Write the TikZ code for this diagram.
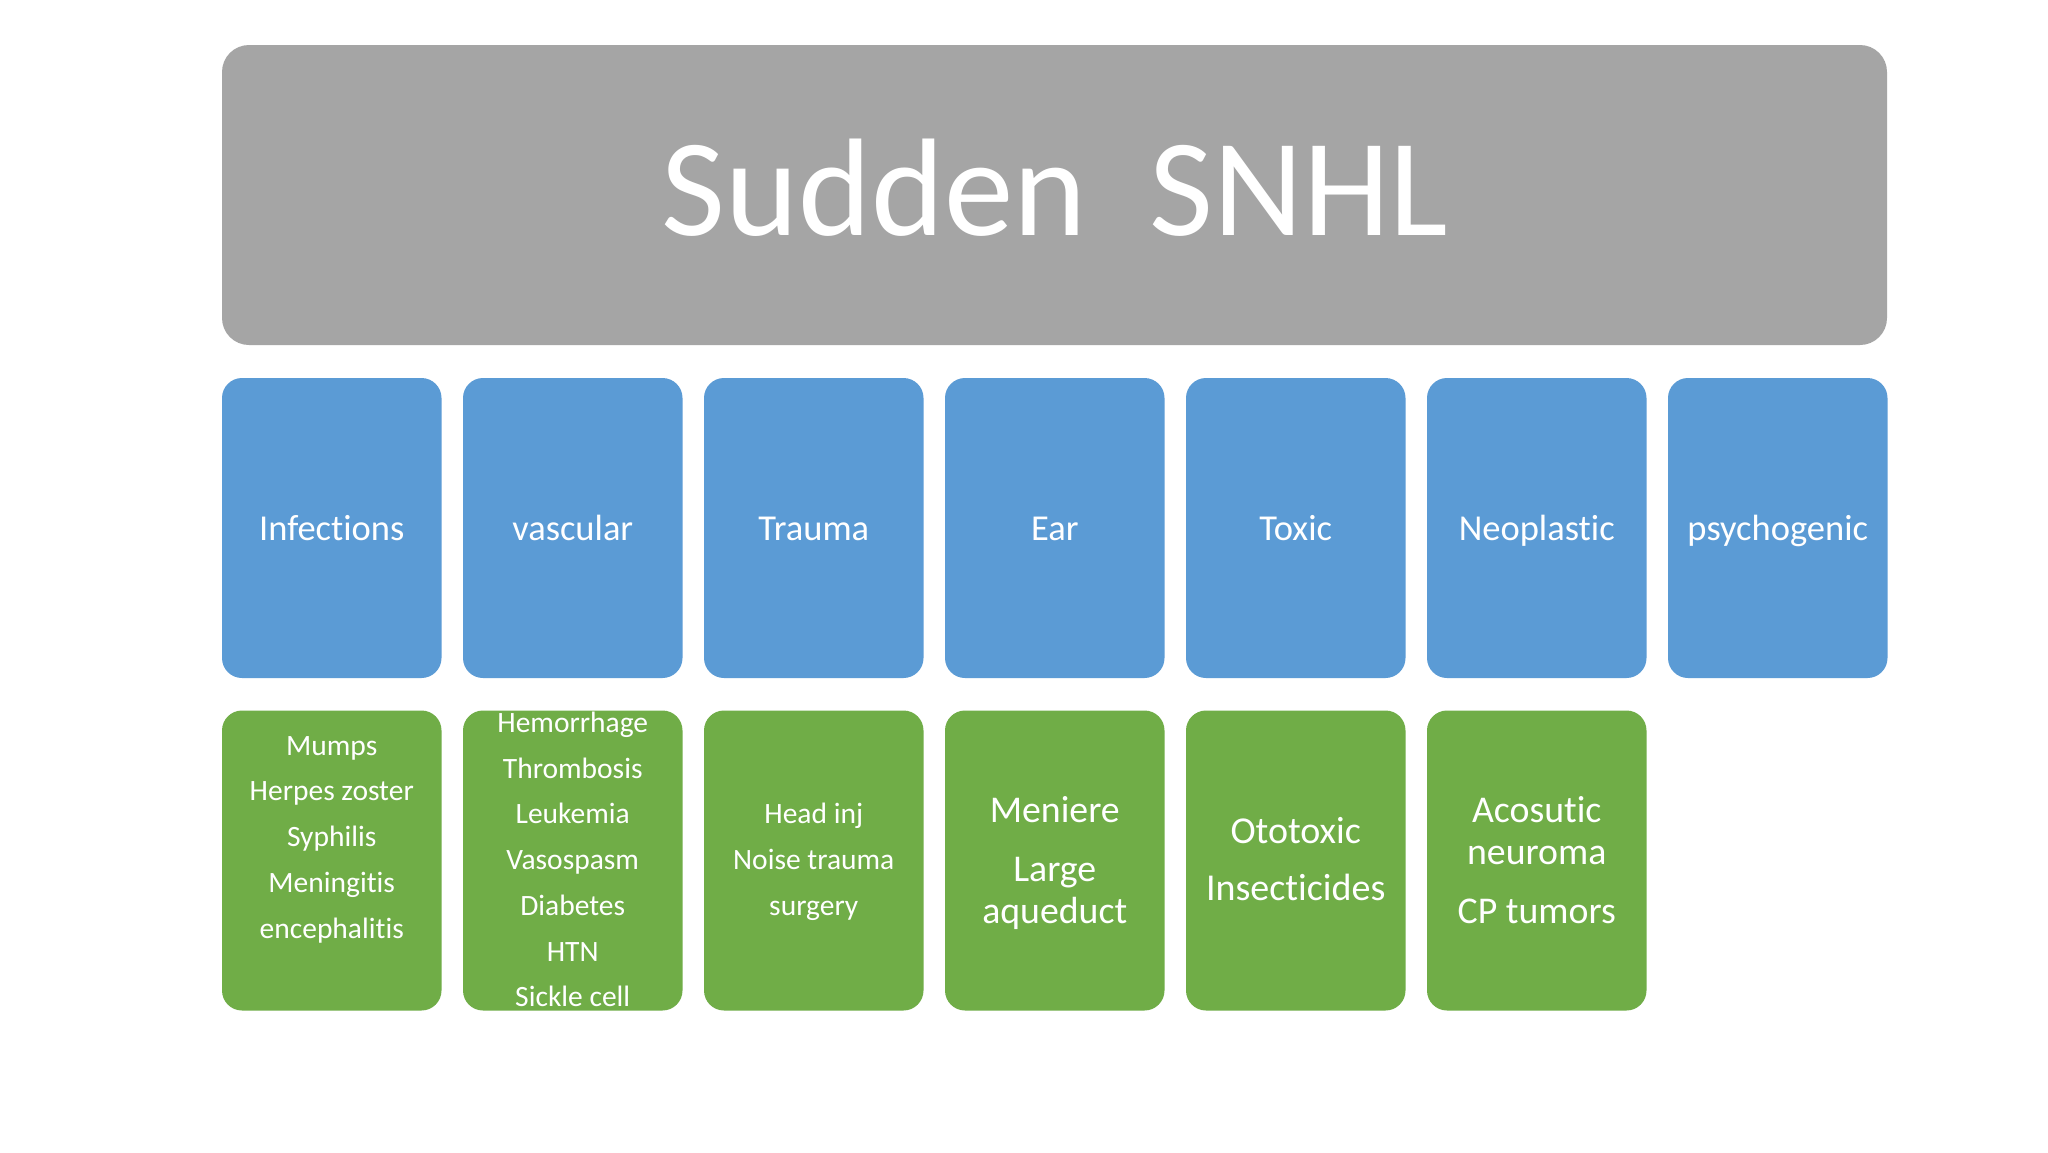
\documentclass[tikz,border=0pt]{standalone}
\usepackage{fontspec}
\setmainfont{Carlito}[Ligatures=NoCommon]
\definecolor{grayC}{HTML}{A5A5A5}
\definecolor{blueC}{HTML}{5B9BD5}
\definecolor{greenC}{HTML}{70AD47}
\newcommand\bluelabel[1]{\raisebox{-12.8pt}[0pt][0pt]{#1}}
\begin{document}
\begin{tikzpicture}[x=1pt,y=-1pt,
  box/.style={rounded corners=20pt, minimum width=219.5pt, minimum height=300pt,
    inner sep=0pt, text=white, align=center, anchor=center},
  bluebox/.style={box, fill=blueC, font=\fontsize{36.5}{44}\selectfont},
  greenbox/.style={box, fill=greenC},
  plaintext/.style={inner sep=0pt, text=white, align=center, anchor=center},
  smalltext/.style={font=\fontsize{29.5}{45.7}\selectfont},
  bigtext/.style={font=\fontsize{37.8}{41.8}\selectfont},
  toxtext/.style={font=\fontsize{38}{57.5}\selectfont},
  titlebox/.style={rounded corners=27pt, minimum width=1665pt, minimum height=300pt,
    inner sep=0pt, fill=grayC, text=white, font=\fontsize{139}{168}\selectfont}
]
\useasboundingbox (0,0) rectangle (2048,1152);
\fill[white] (0,0) rectangle (2048,1152);

\node[titlebox] (title) at (1054.5,195) {};
\node[plaintext, font=\fontsize{139}{168}\selectfont] (titletext) at (1055,188) {Sudden\ \ SNHL};

\node[bluebox] (b1) at (331.75,528) {\bluelabel{Infections}};
\node[bluebox] (b2) at (572.75,528) {\bluelabel{vascular}};
\node[bluebox] (b3) at (813.75,528) {\bluelabel{Trauma}};
\node[bluebox] (b4) at (1054.75,528) {\bluelabel{Ear}};
\node[bluebox] (b5) at (1295.75,528) {\bluelabel{Toxic}};
\node[bluebox] (b6) at (1536.75,528) {\bluelabel{Neoplastic}};
\node[bluebox] (b7) at (1777.75,528) {\bluelabel{psychogenic}};

\node[greenbox] (g1) at (331.75,860.5) {};
\node[greenbox] (g2) at (572.75,860.5) {};
\node[greenbox] (g3) at (813.75,860.5) {};
\node[greenbox] (g4) at (1054.75,860.5) {};
\node[greenbox] (g5) at (1295.75,860.5) {};
\node[greenbox] (g6) at (1536.75,860.5) {};

\node[plaintext, smalltext] (g1t) at ([yshift=23pt]g1.center)
  {\strut Mumps\\\strut Herpes zoster\\\strut Syphilis\\\strut Meningitis\\\strut encephalitis};
\node[plaintext, smalltext] (g2t) at (g2.center)
  {\strut Hemorrhage\\\strut Thrombosis\\\strut Leukemia\\\strut Vasospasm\\\strut Diabetes\\\strut HTN\\\strut Sickle cell};
\node[plaintext, smalltext] (g3t) at (g3.center)
  {\strut Head inj\\\strut Noise trauma\\\strut surgery};
\node[plaintext, bigtext] (g4t) at ([yshift=-4pt]g4.center)
  {\strut Meniere\\[17pt]\strut Large\\\strut aqueduct};
\node[plaintext, toxtext] (g5t) at (g5.center)
  {\strut Ototoxic\\\strut Insecticides};
\node[plaintext, bigtext] (g6t) at ([yshift=-4pt]g6.center)
  {\strut Acosutic\\\strut neuroma\\[17pt]\strut CP tumors};
\end{tikzpicture}
\end{document}
